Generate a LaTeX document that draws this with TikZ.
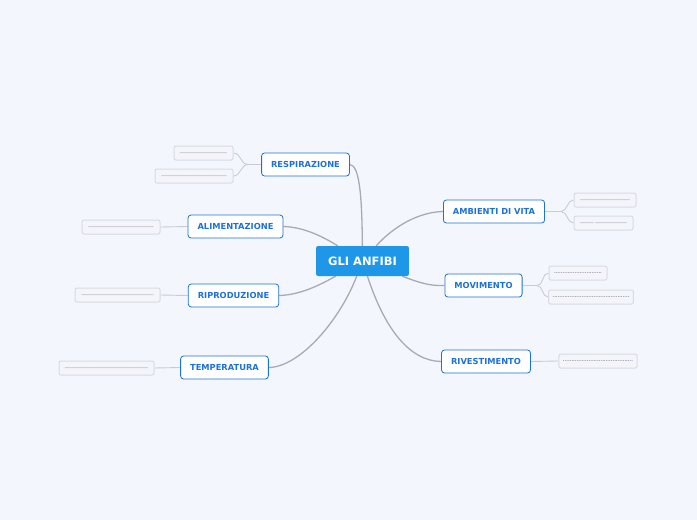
\documentclass[tikz,border=0pt]{standalone}
\usepackage{fontspec}
\setmainfont{DejaVu Sans}
\usetikzlibrary{backgrounds}
\definecolor{bgblue}{HTML}{F3F6FD}
\definecolor{rootblue}{HTML}{1E97E9}
\definecolor{topicblue}{HTML}{1D72DA}
\definecolor{leafline}{HTML}{D9DBE4}
\definecolor{leaffill}{HTML}{F4F5FB}
\definecolor{leaftext}{HTML}{8A8C96}
\definecolor{linkgray}{HTML}{A8ABB7}
\definecolor{twiggray}{HTML}{C9CBD4}
\newcommand{\blank}[1]{\foreach \i in {1,...,#1}{\_}}
\newcommand{\dotrow}[1]{\foreach \i in {1,...,#1}{.}}
\tikzset{
  root/.style={fill=rootblue, text=white, rounded corners=2pt, inner xsep=12pt,
    minimum height=30pt, font=\fontsize{11.5}{13}\selectfont\bfseries},
  topic/.style={draw=topicblue, fill=white, text=topicblue, rounded corners=3pt,
    line width=0.8pt, inner xsep=9.5pt, minimum height=23pt,
    font=\fontsize{8.3}{10}\selectfont\bfseries},
  leaf/.style={draw=leafline, fill=leaffill, text=leaftext, rounded corners=2pt,
    line width=1pt, inner xsep=4pt, minimum height=14pt,
    font=\fontsize{4.5}{5}\selectfont\bfseries},
  link/.style={draw=linkgray, line width=1.3pt},
  twig/.style={draw=twiggray, line width=0.9pt}
}
\begin{document}
\begin{tikzpicture}[x=1pt, y=-1pt]
  \useasboundingbox (0,0) rectangle (697,520);

  \node[root] (C) at (362.5,261) {GLI ANFIBI};

  \node[topic] (R) at (305.5,164.5) {RESPIRAZIONE};
  \node[topic] (A) at (235.5,226.5) {ALIMENTAZIONE};
  \node[topic] (P) at (233.5,295.5) {RIPRODUZIONE};
  \node[topic] (T) at (224.5,367.5) {TEMPERATURA};
  \node[topic] (V) at (494,211.5) {AMBIENTI DI VITA};
  \node[topic] (M) at (483.5,285.5) {MOVIMENTO};
  \node[topic] (S) at (486,361.5) {RIVESTIMENTO};

  \node[leaf, minimum width=59pt] (R1) at (203.5,153) {\blank{21}};
  \node[leaf, minimum width=78pt] (R2) at (194,176) {\blank{29}};
  \node[leaf, minimum width=78pt] (A1) at (121,227) {\blank{29}};
  \node[leaf, minimum width=85pt] (P1) at (117.5,295) {\blank{32}};
  \node[leaf, minimum width=95pt] (T1) at (106.5,368) {\blank{37}};
  \node[leaf, minimum width=62pt] (V1) at (605,200) {\blank{22}};
  \node[leaf, minimum width=59pt] (V2) at (603.5,223) {\blank{6} \blank{14}};
  \node[leaf, minimum width=58pt] (M1) at (578,273) {\dotrow{28}};
  \node[leaf, minimum width=84pt] (M2) at (591,297) {\dotrow{45}};
  \node[leaf, minimum width=78pt] (S1) at (598,361) {\dotrow{41}};

  \coordinate (Rf) at (248,164.5);
  \coordinate (Vf) at (561,211.5);
  \coordinate (Mf) at (537,285.5);

  \begin{scope}[on background layer]
    \fill[bgblue] (0,0) rectangle (697,520);
    % main branches
    \draw[link] (C) .. controls (362,200) and (360,165) .. (R.east);
    \draw[link] (C) .. controls (325,238) and (305,227) .. (A.east);
    \draw[link] (C) .. controls (320,285) and (300,295) .. (P.east);
    \draw[link] (C) .. controls (340,320) and (300,367) .. (T.east);
    \draw[link] (C) .. controls (395,225) and (420,212) .. (V.west);
    \draw[link] (C) .. controls (420,283) and (430,286) .. (M.west);
    \draw[link] (C) .. controls (385,330) and (410,361) .. (S.west);
    % leaves
    \draw[twig] (R.west) -- (Rf);
    \draw[twig] (Rf) to[out=180,in=0] (R1.east);
    \draw[twig] (Rf) to[out=180,in=0] (R2.east);
    \draw[twig] (A.west) -- (A1.east);
    \draw[twig] (P.west) -- (P1.east);
    \draw[twig] (T.west) -- (T1.east);
    \draw[twig] (V.east) -- (Vf);
    \draw[twig] (Vf) to[out=0,in=180] (V1.west);
    \draw[twig] (Vf) to[out=0,in=180] (V2.west);
    \draw[twig] (M.east) -- (Mf);
    \draw[twig] (Mf) to[out=0,in=180] (M1.west);
    \draw[twig] (Mf) to[out=0,in=180] (M2.west);
    \draw[twig] (S.east) -- (S1.west);
  \end{scope}
\end{tikzpicture}
\end{document}
